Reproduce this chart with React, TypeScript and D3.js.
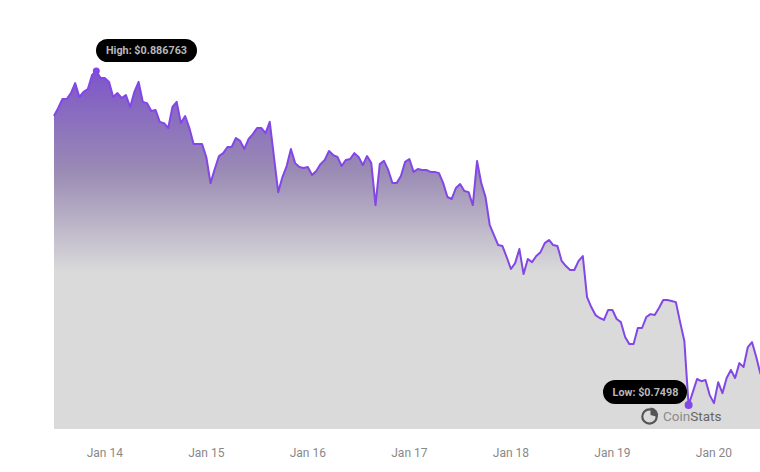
import React from "react";
import * as d3 from "d3";

const startMs = Date.UTC(2024, 0, 13, 12);
const hourMs = 3600000;
const tickDays = ["Jan 14", "Jan 15", "Jan 16", "Jan 17", "Jan 18", "Jan 19", "Jan 20"];
const tickDates = [14, 15, 16, 17, 18, 19, 20];
const pricesA = [
  .8683,.8716,.8753,.8753,.8777,.8818,.8761,.8782,.8794,.8851,
  .886763,.8839,.8839,.8823,.8761,.8777,.8757,.8769,.8720,.8782,
  .8823,.8741,.8736,.8704,.8708,.8659,.8654,.8634,.8720,.8741,
  .8654,.8683,.8634,.8568,.8568,.8568,.8515,.8408,.8466,.8519,
  .8531,.8556,.8556,.8593,.8581,.8548,.8589,.8609,.8634,.8634,
  .8613,.8659,.8515,.8371,.8433,.8478,.8548,.8490,.8474,
];
const pricesB = [
  .8470,.8474,.8441,.8458,.8486,.8503,.8540,.8523,.8515,.8478,
  .8503,.8507,.8531,.8515,.8482,.8519,.8490,.8318,.8486,.8499,
  .8462,.8408,.8408,.8437,.8495,.8507,.8454,.8466,.8462,.8462,
  .8454,.8454,.8449,.8408,.8351,.8343,.8388,.8404,.8376,.8371,
  .8318,.8499,.8408,.8351,.8236,.8195,.8154,.8150,.8105,.8056,
  .8080,.8138,
];
const pricesC = [
  .8035,.8097,.8084,.8109,.8125,.8162,.8175,.8154,.8150,.8089,
  .8068,.8052,.8052,.8089,.8109,.7941,.7900,.7867,.7855,.7847,
  .7888,.7888,.7851,.7838,.7777,.7748,.7748,.7814,.7814,.7859,
  .7871,.7867,.7896,.7929,.7929,.7925,.7920,.7838,.7761,.7498,
  .7551,.7605,.7596,.7601,.7539,.7506,.7592,.7547,.7609,.7642,
  .7609,.7670,.7654,.7736,.7756,.7695,.7625,
];
const prices = [...pricesA, ...pricesB, ...pricesC];
const highLabel = "High: $0.886763";
const lowLabel = "Low: $0.7498";
const yDomain = [0.74, 0.886763];

const FONT = "Roboto, sans-serif";
const PURPLE = "#8247e5";

export default function App() {
  const x = d3.scaleUtc()
    .domain([new Date(startMs), new Date(startMs + 167 * hourMs)])
    .range([54, 760.5]);
  const y = d3.scaleLinear().domain(yDomain).range([429, 71]);
  const data = prices.map((v, i) => ({ t: new Date(startMs + i * hourMs), v }));
  const line = d3.line<any>().x(d => x(d.t)).y(d => y(d.v));
  const area = d3.area<any>().x(d => x(d.t)).y0(y(yDomain[0])).y1(d => y(d.v));
  const hi = data[prices.indexOf(d3.max(prices)!)];
  const lo = data[prices.indexOf(d3.min(prices)!)];
  const tx = (d: number) => x(new Date(Date.UTC(2024, 0, d, 0)));
  return (
    <svg width={760} height={472} viewBox="0 0 760 472"
      style={{ position: "absolute", left: 0, top: 0, background: "#fff" }}>
      <defs>
        <linearGradient id="fade" gradientUnits="userSpaceOnUse" x1={0} x2={0} y1={71} y2={272}>
          <stop offset="0" stopColor="#7d55c8" />
          <stop offset="0.5" stopColor="#9a8bb4" />
          <stop offset="1" stopColor="#dadada" />
        </linearGradient>
      </defs>
      <path d={area(data)!} fill="url(#fade)" />
      <path d={line(data)!} fill="none" stroke={PURPLE} strokeWidth={2} strokeLinejoin="round" />
      <circle cx={x(hi.t)} cy={y(hi.v)} r={3.5} fill={PURPLE} />
      <circle cx={x(lo.t)} cy={y(lo.v)} r={4} fill={PURPLE} />
      <g fontFamily={FONT} fontWeight={700} fontSize={10.8} fill="#b8b8b8" textAnchor="middle">
        <rect x={96} y={39} width={101} height={23} rx={11.5} fill="#000" />
        <text x={146.5} y={54}>{highLabel}</text>
        <rect x={603} y={380} width={84} height={24} rx={12} fill="#000" />
        <text x={645.5} y={396}>{lowLabel}</text>
      </g>
      <g fontFamily={FONT} fontSize={12} fill="#888" textAnchor="middle">
        {tickDates.map((d, i) => (
          <text key={d} x={tx(d)} y={457}>{tickDays[i]}</text>
        ))}
      </g>
      <g>
        <circle cx={649.5} cy={416.5} r={7.2} fill="none" stroke="#555" strokeWidth={2.2} />
        <path d={d3.arc()({ innerRadius: 0, outerRadius: 7.5, startAngle: 0, endAngle: Math.PI / 1.7 })!}
          transform="translate(650.5,415)" fill="#555" />
        <text x={663} y={421} fontFamily={FONT} fontSize={13.5} fill="#8a8a8a">
          Coin<tspan fill="#666">Stats</tspan>
        </text>
      </g>
    </svg>
  );
}
